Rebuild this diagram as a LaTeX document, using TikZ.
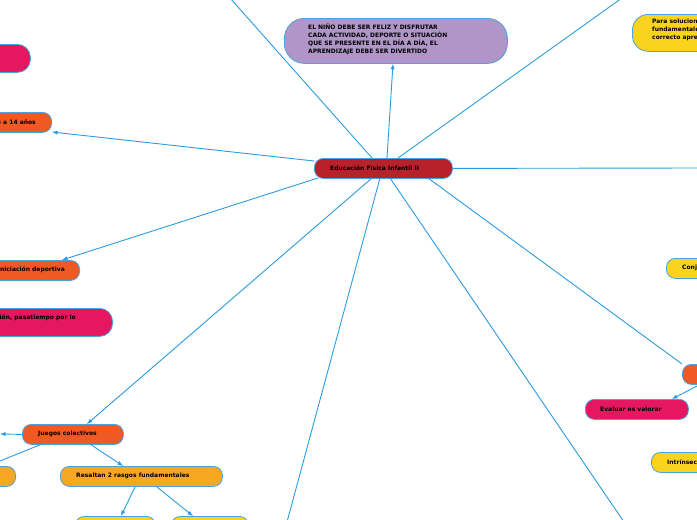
\documentclass[tikz,border=0pt]{standalone}
\usepackage{fontspec}
\setmainfont{DejaVu Sans}
\begin{document}
\begin{tikzpicture}[x=1pt,y=-1pt,
  box/.style={draw=bordc,line width=0.8pt,rounded corners=9pt,inner sep=0pt,anchor=north west},
  lbl/.style={font=\bfseries\fontsize{6}{7.8}\selectfont,text=black,inner sep=0pt,anchor=west,align=left},
  link/.style={draw=linec,line width=0.9pt},
  arr/.style={link,-latex}]
\definecolor{bordc}{HTML}{4AA3DF}
\definecolor{linec}{HTML}{2A9BDF}
\definecolor{dred}{HTML}{B8202A}
\definecolor{purp}{HTML}{B095C8}
\definecolor{yel}{HTML}{F9D31C}
\definecolor{orng}{HTML}{EF5A24}
\definecolor{pink}{HTML}{E5185F}
\definecolor{yor}{HTML}{F7A823}
\useasboundingbox (0,0) rectangle (697,520);
\clip (0,0) rectangle (697,520);
\node[box,fill=dred,minimum width=138pt,minimum height=20pt] (c) at (314,158) {};
\node[lbl] (ct) at (330,168) {Educación Física Infantil II};
\node[box,fill=purp,minimum width=223pt,minimum height=45pt,rounded corners=20pt] (p) at (284,18) {};
\node[lbl,anchor=north west] (pt) at (308,24) {EL NIÑO DEBE SER FELIZ Y DISFRUTAR\\CADA ACTIVIDAD, DEPORTE O SITUACIÓN\\QUE SE PRESENTE EN EL DÍA A DÍA, EL\\APRENDIZAJE DEBE SER DIVERTIDO};
\node[box,fill=yel,minimum width=160pt,minimum height=37pt,rounded corners=16pt] (y1) at (632,14) {};
\node[lbl,anchor=north west] (y1t) at (652,19) {Para solucionar\\fundamentales\\correcto aprendizaje};
\node[box,fill=pink,minimum width=80pt,minimum height=28pt,rounded corners=13pt] (pk1) at (-50,44) {};
\node[box,fill=orng,minimum width=102pt,minimum height=20pt,anchor=north east] (o1) at (52,112) {};
\node[lbl,anchor=east] (o1t) at (36,122) {Niños de 6 a 14 años};
\node[box,fill=orng,minimum width=130pt,minimum height=20pt,anchor=north east] (o2) at (80,260) {};
\node[lbl,anchor=east] (o2t) at (65,270) {Iniciación deportiva};
\node[box,fill=pink,minimum width=200pt,minimum height=28pt,rounded corners=13pt,anchor=north east] (pk2) at (113,308) {};
\node[lbl,anchor=east] (pk2t) at (76,318) {Diversión, pasatiempo por lo};
\node[box,fill=orng,minimum width=101pt,minimum height=20pt] (jc) at (22,424) {};
\node[lbl] (jct) at (38,434) {Juegos colectivos};
\node[box,fill=yor,minimum width=60pt,minimum height=20pt,anchor=north east] (y2) at (16,466) {};
\node[box,fill=yor,minimum width=162pt,minimum height=20pt] (rs) at (60,466) {};
\node[lbl] (rst) at (76,476) {Resaltan 2 rasgos fundamentales};
\node[box,fill=yel,minimum width=80pt,minimum height=20pt] (b1) at (75,516) {};
\node[box,fill=yel,minimum width=77pt,minimum height=20pt] (b2) at (171,516) {};
\node[box,fill=yel,minimum width=80pt,minimum height=20pt] (cj) at (666,258) {};
\node[lbl] (cjt) at (682,268) {Conjunto};
\node[box,fill=orng,minimum width=60pt,minimum height=20pt] (o3) at (682,364) {};
\node[box,fill=pink,minimum width=103pt,minimum height=20pt] (ev) at (585,399) {};
\node[lbl] (evt) at (600,409) {Evaluar es valorar};
\node[box,fill=yel,minimum width=80pt,minimum height=20pt] (in) at (651,452) {};
\node[lbl] (int) at (667,462) {Intrínseca};
\coordinate (t1) at (230,-2);
\coordinate (t2) at (622,-2);
\coordinate (rt) at (700,168);
\coordinate (d1) at (287,522);
\coordinate (d2) at (624,522);
\coordinate (jl) at (0,434);
\draw[link] (372,158) -- (t1);
\draw[link] (398,158) -- (t2);
\draw[arr] (387,158) -- (p.south -| 393,0);
\draw[arr] (314,161) -- (o1.east |- 0,132);
\draw[link] (c.east) -- (rt);
\draw[arr] (318,178) -- (62,260);
\draw[arr] (372,178) -- (87,424);
\draw[link] (380,178) -- (d1);
\draw[link] (390,178) -- (d2);
\draw[link] (428,178) -- (o3.north west);
\draw[arr] (697,386) -- (672,399);
\draw[arr] (jc.west) -- (jl);
\draw[link] (42,444) -- (0,461);
\draw[arr] (90,444) -- (123,466);
\draw[arr] (135,487) -- (121,516);
\draw[arr] (157,487) -- (193,516);
\end{tikzpicture}
\end{document}
